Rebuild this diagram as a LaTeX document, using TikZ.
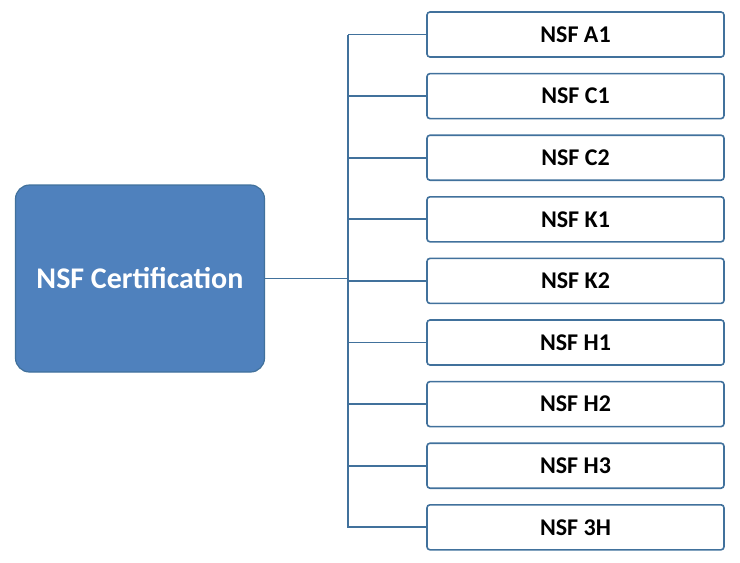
\documentclass[tikz,border=0pt]{standalone}
\usepackage{fontspec}
\setmainfont{Carlito}
\definecolor{line}{HTML}{41719C}
\definecolor{mainfill}{HTML}{4F81BD}
\begin{document}
\begin{tikzpicture}[x=1pt,y=-1pt,
  item/.style={draw=line,line width=1.6pt,rounded corners=3pt,fill=white,minimum width=297pt,minimum height=45pt,inner sep=0pt,font=\bfseries\fontsize{24}{26}\selectfont},
  conn/.style={draw=line,line width=1.8pt}]
\useasboundingbox (0,0) rectangle (740,563);
\node[draw=line,line width=1.2pt,fill=mainfill,rounded corners=14pt,minimum width=249pt,minimum height=187pt,text=white,font=\bfseries\fontsize{30}{34}\selectfont] (main) at (140,278.5) {NSF Certification};
\coordinate (t) at (348,34.5);
\coordinate (b) at (348,527.5);
\coordinate (m) at (348,278.5);
\draw[conn] (t) -- (b);
\draw[conn] (main.east) -- (m);
\foreach \n/\t [count=\i from 0] in {a1/NSF A1,c1/NSF C1,c2/NSF C2,k1/NSF K1,k2/NSF K2,h1/NSF H1,h2/NSF H2,h3/NSF H3,h3b/NSF 3H}{
  \node[item] (\n) at (575.5,34.5+61.6*\i) {\t};
  \coordinate (j\n) at (348,34.5+61.6*\i);
  \draw[conn] (j\n) -- (\n.west);
}
\end{tikzpicture}
\end{document}
